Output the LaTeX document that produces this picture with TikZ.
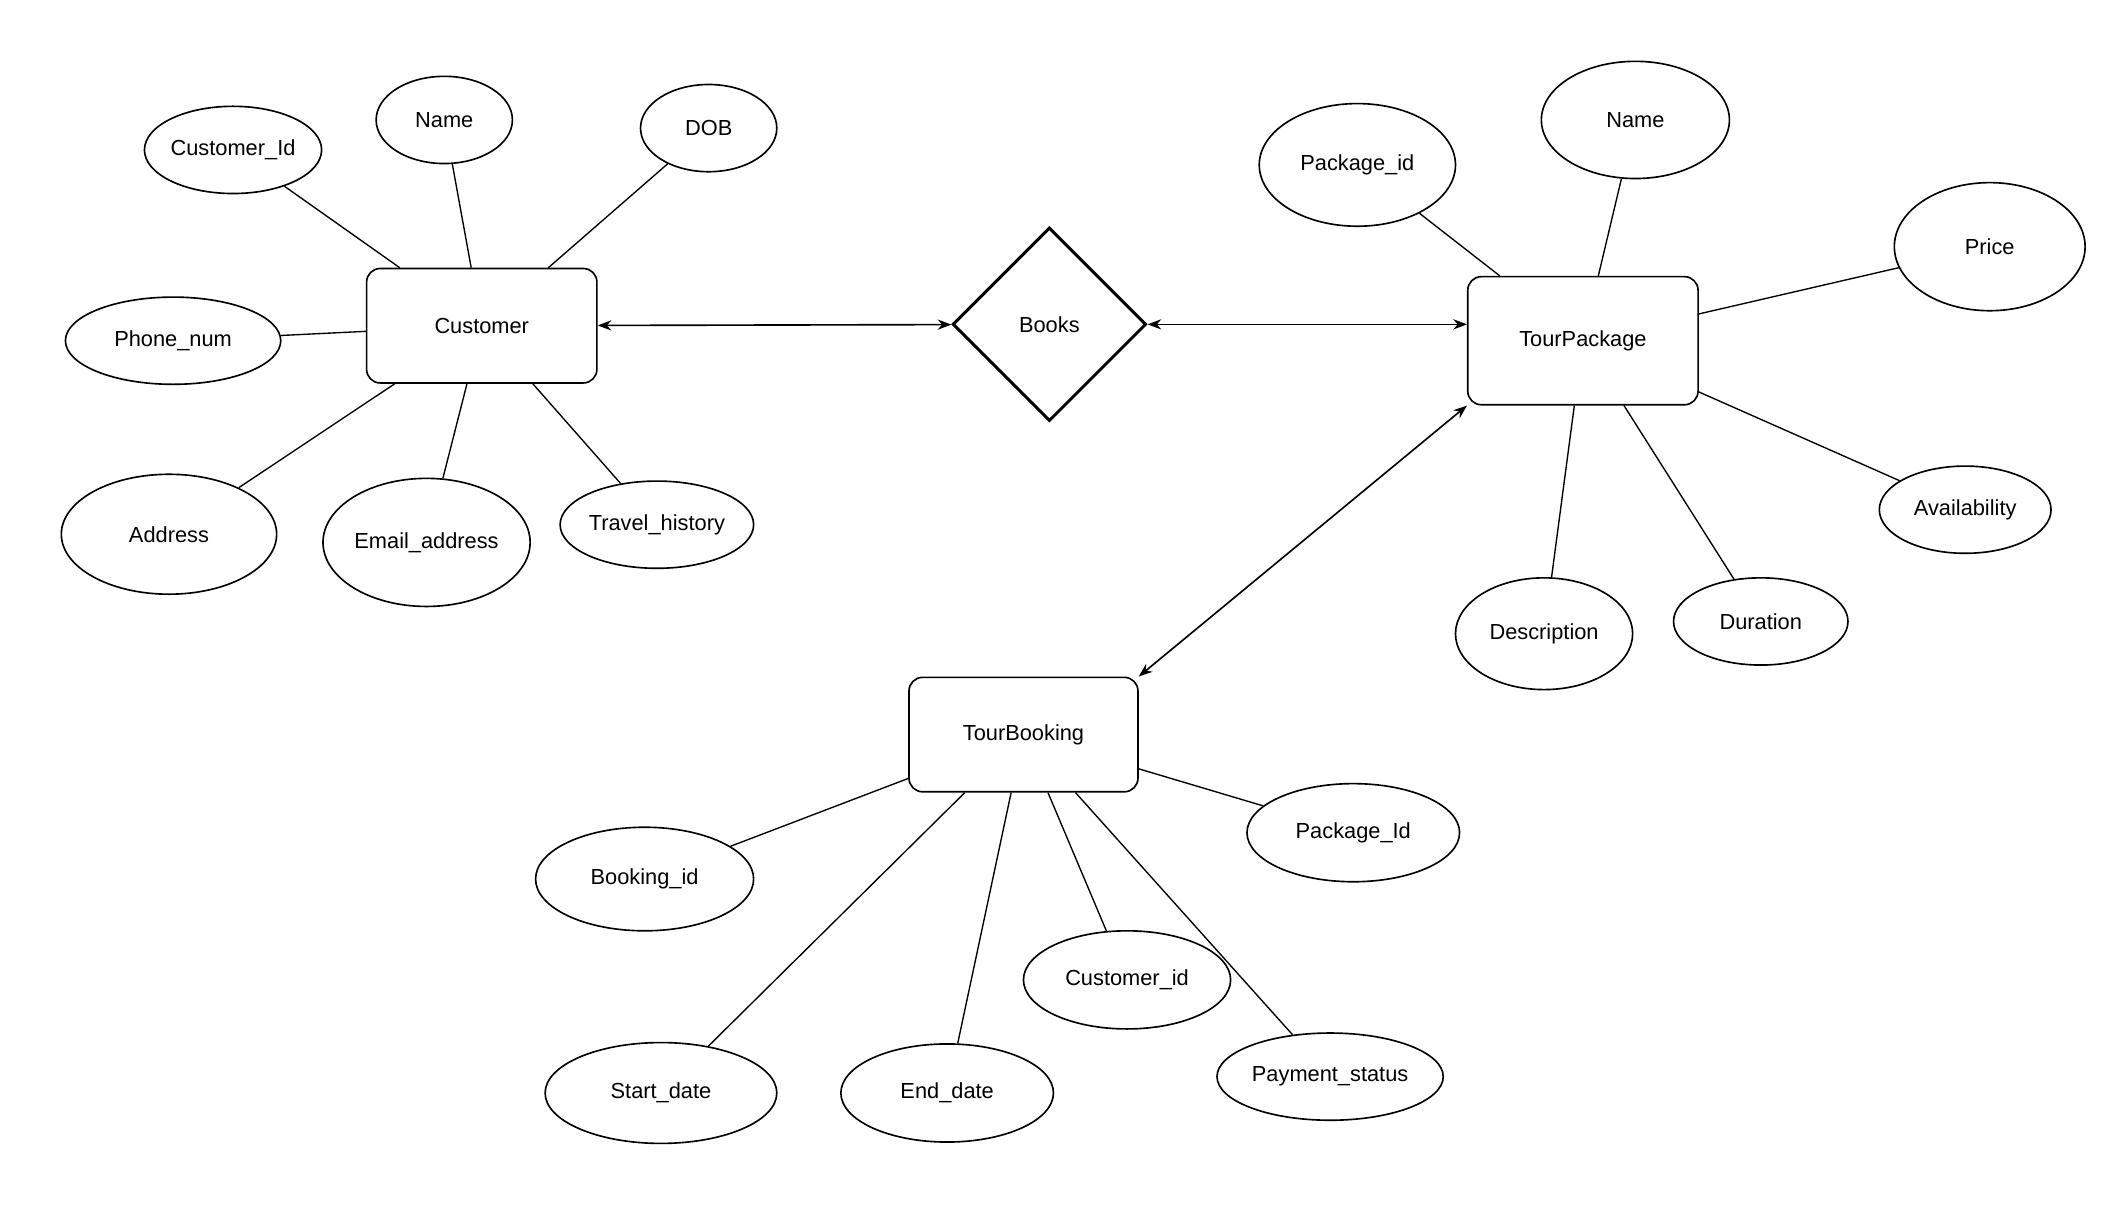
\documentclass[tikz,border=0pt]{standalone}
\usepackage{fontspec}
\setmainfont{Liberation Sans}
\usetikzlibrary{shapes.geometric,arrows.meta}
\begin{document}
\begin{tikzpicture}[x=0.5pt,y=-0.5pt,font=\fontsize{8}{10}\selectfont,
  ent/.style={draw,rounded corners=5pt,line width=0.6pt,inner sep=0pt},
  att/.style={draw,ellipse,line width=0.6pt,inner sep=0pt},
  ln/.style={line width=0.5pt},
  rel/.style={line width=0.6pt,{Stealth[length=5pt]}-{Stealth[length=5pt]}}]
\useasboundingbox (0,0) rectangle (1560,895);
\fill[white] (0,0) rectangle (1560,895);
\newcommand{\ent}[5]{\node[ent,minimum width=#3*0.5pt,minimum height=#4*0.5pt] (#1) at #2 {#5};}
\newcommand{\att}[5]{\node[att,minimum width=#3*1pt,minimum height=#4*1pt] (#1) at #2 {#5};}
\ent{cust}{(353.5,239)}{169}{84}{Customer}
\ent{tp}{(1161.5,250)}{169}{94}{TourPackage}
\ent{tb}{(751,539)}{168}{84}{TourBooking}
\node[draw,diamond,line width=1.1pt,minimum width=71pt,minimum height=71pt,inner sep=0pt,aspect=1] (books) at (770,238) {Books};
\att{cid}{(171,110)}{65}{32}{Customer\_Id}
\att{cname}{(326,88)}{50}{32}{Name}
\att{dob}{(520,94)}{50}{32}{DOB}
\att{phone}{(127,250)}{79}{32}{Phone\_num}
\att{addr}{(124,392)}{79}{44}{Address}
\att{email}{(313,398)}{76}{47}{Email\_address}
\att{trav}{(482,385)}{71}{32}{Travel\_history}
\att{pid}{(996,121)}{72}{45}{Package\_id}
\att{pname}{(1200,88)}{69}{43}{Name}
\att{price}{(1460,181)}{70}{47}{Price}
\att{avail}{(1442,374)}{63}{32}{Availability}
\att{dur}{(1292,456)}{64}{32}{Duration}
\att{desc}{(1133,465)}{65}{41}{Description}
\att{bid}{(473,645)}{80}{38}{Booking\_id}
\att{pkid}{(993,611)}{78}{36}{Package\_Id}
\att{custid}{(827,719)}{76}{36}{Customer\_id}
\att{sd}{(485,802)}{85}{37}{Start\_date}
\att{ed}{(695,802)}{78}{36}{End\_date}
\att{pay}{(976,790)}{83}{32}{Payment\_status}
\foreach \a in {cid,cname,dob,phone,addr,email,trav} \draw[ln] (cust) -- (\a);
\foreach \a in {pid,pname,price,avail,dur,desc} \draw[ln] (tp) -- (\a);
\foreach \a in {bid,pkid,custid,sd,ed,pay} \draw[ln] (tb) -- (\a);
\draw[rel] (cust) -- (books);
\draw[rel] (books) -- (tp.west |- books);
\draw[rel] (tp.south west) -- (tb.north east);
\end{tikzpicture}
\end{document}
